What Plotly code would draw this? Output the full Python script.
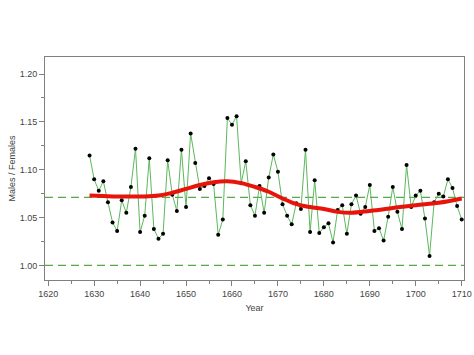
import plotly.graph_objects as go

years = list(range(1629, 1711))
ratio = [
    1.115, 1.090, 1.078, 1.088, 1.066, 1.045, 1.036, 1.068, 1.055, 1.082,  # 1629-1638
    1.122, 1.035, 1.052, 1.112, 1.038, 1.028, 1.033, 1.110, 1.074, 1.057,  # 1639-1648
    1.121, 1.061, 1.138, 1.107, 1.080, 1.083, 1.091, 1.085, 1.032, 1.048,  # 1649-1658
    1.154, 1.147, 1.156, 1.086, 1.109, 1.063, 1.052, 1.083, 1.055, 1.092,  # 1659-1668
    1.116, 1.098, 1.064, 1.052, 1.043, 1.065, 1.059, 1.121, 1.035, 1.089,  # 1669-1678
    1.034, 1.040, 1.044, 1.024, 1.058, 1.063, 1.033, 1.064, 1.073, 1.054,  # 1679-1688
    1.061, 1.084, 1.036, 1.039, 1.026, 1.051, 1.082, 1.056, 1.038, 1.105,  # 1689-1698
    1.061, 1.073, 1.078, 1.049, 1.010, 1.066, 1.075, 1.072, 1.090, 1.081,  # 1699-1708
    1.062, 1.048,  # 1709-1710
]

smooth_years = [1629, 1632, 1635, 1638, 1641, 1644, 1647, 1650, 1653, 1656, 1659,
                1662, 1665, 1668, 1671, 1674, 1677, 1680, 1683, 1686, 1690, 1695,
                1700, 1705, 1710]
smooth_vals = [1.073, 1.0725, 1.072, 1.072, 1.072, 1.073, 1.076, 1.080, 1.084, 1.087, 1.088,
               1.086, 1.082, 1.077, 1.070, 1.064, 1.061, 1.059, 1.056, 1.055, 1.057, 1.060,
               1.063, 1.0655, 1.070]

ref_lines = [1.0712, 1.00]

fig = go.Figure()
for r in ref_lines:
    fig.add_trace(go.Scatter(x=[1619.3, 1710.5], y=[r, r], mode="lines",
                             line=dict(color="#5aa84a", width=1.2, dash="8px,5px"),
                             hoverinfo="skip", showlegend=False))
fig.add_trace(go.Scatter(x=years, y=ratio, mode="lines+markers",
                         line=dict(color="#5cb85c", width=1),
                         marker=dict(color="black", size=4),
                         showlegend=False))
fig.add_trace(go.Scatter(x=smooth_years, y=smooth_vals, mode="lines",
                         line=dict(color="#e8140c", width=4, shape="spline"),
                         showlegend=False))

font = dict(family="Liberation Sans, Arial", size=9, color="#444")
axis_common = dict(showgrid=False, zeroline=False, showline=True, linecolor="#808080",
                   linewidth=1, mirror=True, ticks="outside", ticklen=5, automargin=False,
                   tickcolor="#808080", tickfont=font)

fig.update_layout(
    width=474, height=355,
    margin=dict(l=45, r=10, t=57, b=75),
    paper_bgcolor="white", plot_bgcolor="white",
    hovermode=False,
    xaxis=dict(range=[1619.3, 1710.5], tickvals=list(range(1620, 1711, 10)),
               minor=dict(tickvals=list(range(1625, 1710, 10)), ticks="outside", ticklen=3, tickcolor="#808080"),
               title=dict(text="Year", font=font, standoff=6),
               **axis_common),
    yaxis=dict(range=[0.9848, 1.2178], tickvals=[1.00, 1.05, 1.10, 1.15, 1.20],
               ticktext=["1.00", "1.05", "1.10", "1.15", "1.20"],
               minor=dict(tickvals=[1.025, 1.075, 1.125, 1.175], ticks="outside", ticklen=3, tickcolor="#808080"),
               title=dict(text="Males / Females", font=font, standoff=2),
               **axis_common),
)

fig.write_html("out.html", config={"displayModeBar": False},
               post_script="document.body.style.margin='0';document.body.style.overflow='hidden';")
